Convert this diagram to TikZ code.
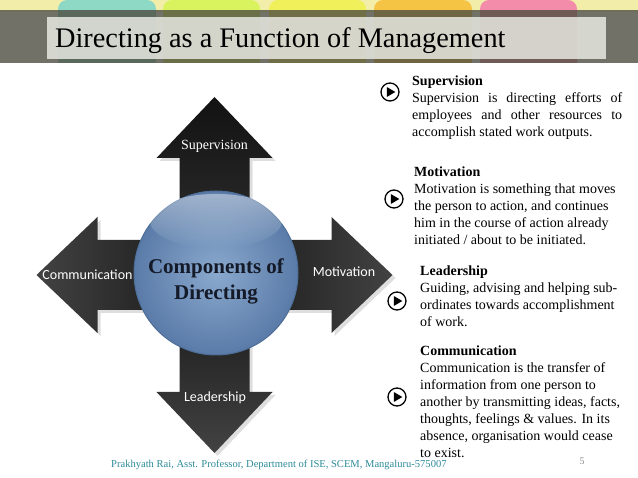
\documentclass[tikz,border=0pt]{standalone}
\usepackage{fontspec}
\setmainfont{Liberation Serif}
\newfontfamily\calib{Carlito}
\usetikzlibrary{fadings}
\definecolor{stripc}{HTML}{F2EEAA}
\definecolor{tabA}{HTML}{8ED8C6}
\definecolor{tabB}{HTML}{D9F35E}
\definecolor{tabC}{HTML}{F0F05A}
\definecolor{tabD}{HTML}{F6C444}
\definecolor{tabE}{HTML}{F28CAA}
\definecolor{bandc}{RGB}{79,78,66}
\definecolor{boxc}{RGB}{231,232,225}
\definecolor{ballin}{HTML}{8AA9CE}
\definecolor{ballout}{HTML}{5A7BA8}
\definecolor{ballrim}{HTML}{4D6E98}
\definecolor{hubtxt}{HTML}{141A28}
\definecolor{footc}{HTML}{2E8B9B}
\tikzset{
  txt/.style={anchor=base west, inner sep=0pt, font=\fontsize{14}{17}\selectfont},
  lbl/.style={text=white, inner sep=0pt, font=\calib\fontsize{14}{16}\selectfont},
  icon/.style={circle, draw=black, line width=1.3pt, minimum size=18pt, inner sep=0pt},
  shadowc/.style={fill=black, opacity=0.13},
}
\begin{document}
\begin{tikzpicture}[x=1pt,y=-1pt]
\useasboundingbox (0,0) rectangle (638,478);
\fill[white] (0,0) rectangle (638,478);
% header
\fill[stripc] (0,0) rectangle (638,12);
\foreach \a/\b/\c in {58/156/tabA,163/260/tabB,269/366/tabC,374/472/tabD,480/577/tabE}{
  \fill[\c] (\a,63) [rounded corners=9pt]-- (\a,0) -- (\b,0) [sharp corners]-- (\b,63) -- cycle;
}
\fill[bandc, opacity=0.8] (0,10) rectangle (638,63);
\fill[boxc, opacity=0.85] (47,17) rectangle (606,59);
\node[anchor=base west, inner sep=0pt, font=\fontsize{28.3}{32}\selectfont] (title) at (55,48) {Directing as a Function of Management};
% arrow shadows
\fill[shadowc] (182.5,278) -- (182.5,161) -- (159.5,161) -- (217.5,100) -- (275.5,161) -- (252.5,161) -- (252.5,278) -- cycle;
\fill[shadowc] (182.5,278) -- (182.5,395) -- (159.5,395) -- (217.5,456) -- (275.5,395) -- (252.5,395) -- (252.5,278) -- cycle;
\fill[shadowc] (217.5,243) -- (100.5,243) -- (100.5,220) -- (39.5,278) -- (100.5,336) -- (100.5,313) -- (217.5,313) -- cycle;
\fill[shadowc] (217.5,243) -- (334.5,243) -- (334.5,220) -- (395.5,278) -- (334.5,336) -- (334.5,313) -- (217.5,313) -- cycle;
% arrows
\shade[top color=black!93, bottom color=black!80] (179.5,275) -- (179.5,158) -- (156.5,158) -- (214.5,97) -- (272.5,158) -- (249.5,158) -- (249.5,275) -- cycle;
\shade[top color=black!92, bottom color=black!74] (179.5,275) -- (179.5,392) -- (156.5,392) -- (214.5,453) -- (272.5,392) -- (249.5,392) -- (249.5,275) -- cycle;
\shade[left color=black!74, right color=black!92] (214.5,240) -- (97.5,240) -- (97.5,217) -- (36.5,275) -- (97.5,333) -- (97.5,310) -- (214.5,310) -- cycle;
\shade[left color=black!92, right color=black!74] (214.5,240) -- (331.5,240) -- (331.5,217) -- (392.5,275) -- (331.5,333) -- (331.5,310) -- (214.5,310) -- cycle;
% arrow labels
\node[text=white, inner sep=0pt, font=\fontsize{14}{16}\selectfont] (lsup) at (214.5,146) {Supervision};
\node[lbl] (llead) at (215,398) {Leadership};
\node[lbl] (lmot) at (344,272) {Motivation};
\node[lbl] (lcom) at (87.5,275) {Communication};
% hub
\node[circle, minimum size=164pt, inner sep=0pt, inner color=ballin, outer color=ballout, draw=ballrim, line width=1pt] (hub) at (216,273) {};
\fill[white, opacity=0.42, path fading=south] (216,221) ellipse (66pt and 27pt);
\node[anchor=base, inner sep=0pt, text=hubtxt, font=\bfseries\fontsize{21}{26}\selectfont] (hub1) at (216,274) {Components of};
\node[anchor=base, inner sep=0pt, text=hubtxt, font=\bfseries\fontsize{21}{26}\selectfont] (hub2) at (216,300) {Directing};
% icons
\foreach \n/\x/\y in {i1/390/92, i2/394/199, i3/397/301, i4/397/397}{
  \node[icon] (\n) at (\x,\y) {};
  \fill (\x-3.2,\y-5) -- (\x-3.2,\y+5) -- (\x+5.3,\y) -- cycle;
}
% right texts
\node[txt] (tsup) at (412,86) {\parbox[t]{215pt}{\textbf{Supervision}\\
\makebox[210pt][s]{Supervision is directing efforts of}\\
\makebox[210pt][s]{employees and other resources to}\\
accomplish stated work outputs.}};
\node[txt] (tmot) at (414,177) {\parbox[t]{220pt}{\textbf{Motivation}\\
Motivation is something that moves\\
the person to action, and continues\\
him in the course of action already\\
initiated / about to be initiated.}};
\node[txt] (tlead) at (420,276) {\parbox[t]{215pt}{\textbf{Leadership}\\
Guiding, advising and helping sub-\\
ordinates towards accomplishment\\
of work.}};
\node[txt] (tcom) at (420,356) {\parbox[t]{215pt}{\textbf{Communication}\\
Communication is the transfer of\\
information from one person to\\
another by transmitting ideas, facts,\\
thoughts, feelings \& values. In its\\
absence, organisation would cease\\
to exist.}};
% footer
\node[anchor=base west, inner sep=0pt, text=footc, font=\fontsize{10.55}{13}\selectfont] (foot) at (111,468) {Prakhyath Rai, Asst. Professor, Department of ISE, SCEM, Mangaluru-575007};
\node[anchor=base, inner sep=0pt, text=black!45, font=\fontsize{10}{12}\selectfont] (pg) at (582,465) {5};
\end{tikzpicture}
\end{document}
